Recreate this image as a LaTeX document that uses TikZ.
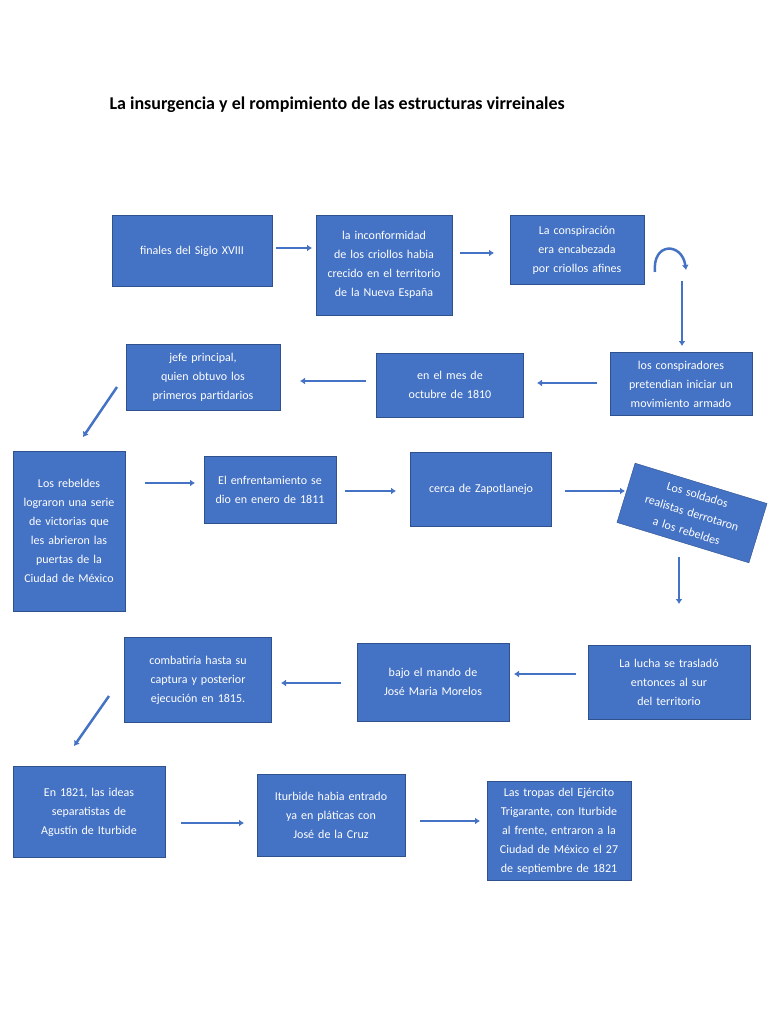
\documentclass[tikz,border=0pt]{standalone}
\usepackage{fontspec}
\setmainfont{Carlito}
\usetikzlibrary{arrows.meta}
\definecolor{boxblue}{HTML}{4472C4}
\definecolor{boxedge}{HTML}{2F528F}
\begin{document}
\hyphenpenalty=10000
\exhyphenpenalty=10000
\begin{tikzpicture}
[x=1pt,y=-1pt,
 box/.style={draw=boxedge, fill=boxblue, text=white, align=center, inner sep=2pt,
   font=\fontsize{12}{19}\selectfont, anchor=center},
 flow/.style={draw=boxblue, line width=2.5pt, -{Latex[length=5pt,width=7pt]}}]
\useasboundingbox (0,0) rectangle (768,1024);
% Title
\node[font=\fontsize{18}{22}\selectfont\bfseries, anchor=west] (title) at (106,105)
  {La insurgencia y el rompimiento de las estructuras virreinales};
% First row
\node[box, minimum width=160, minimum height=71, text width=150] (siglo) at (192,251) {finales del Siglo XVIII};
\node[box, minimum width=136, minimum height=100, text width=128] (inconf) at (384,265) {la inconformidad de los criollos habia crecido en el territorio de la Nueva España};
\node[box, minimum width=134, minimum height=69, text width=118] (consp) at (577,250) {La conspiración era encabezada por criollos afines};
% Second row
\node[box, minimum width=142, minimum height=63, text width=136] (armado) at (681,384) {los conspiradores pretendian iniciar un movimiento armado};
\node[box, minimum width=147, minimum height=64, text width=120] (octubre) at (450,385) {en el mes de octubre de 1810};
\node[box, minimum width=154, minimum height=66, text width=134] (jefe) at (203,377) {jefe principal, quien obtuvo los primeros partidarios};
% Third row
\node[box, minimum width=112, minimum height=160, text width=104] (rebeldes) at (69,531) {Los rebeldes lograron una serie de victorias que les abrieron las puertas de la Ciudad de México};
\node[box, minimum width=132, minimum height=67, text width=112] (enero) at (270,490) {El enfrentamiento se dio en enero de 1811};
\node[box, minimum width=141, minimum height=74, text width=136] (zapot) at (481,489) {cerca de Zapotlanejo};
\node[box, minimum width=138, minimum height=62, text width=112, rotate=-17] (derrota) at (692,513) {Los soldados realistas derrotaron a los rebeldes};
% Fourth row
\node[box, minimum width=162, minimum height=74, text width=120] (lucha) at (669,682) {La lucha se trasladó entonces al sur del territorio};
\node[box, minimum width=152, minimum height=78, text width=130] (mando) at (433,682) {bajo el mando de José Maria Morelos};
\node[box, minimum width=147, minimum height=85, text width=138] (captura) at (198,680) {combatiría hasta su captura y posterior ejecución en 1815.};
% Fifth row
\node[box, minimum width=152, minimum height=91, text width=146] (iturb) at (89,812) {En 1821, las ideas separatistas de Agustín de Iturbide};
\node[box, minimum width=148, minimum height=82, text width=130] (platicas) at (331,815) {Iturbide habia entrado ya en pláticas con José de la Cruz};
\node[box, minimum width=143, minimum height=99, text width=140] (tropas) at (559,831) {Las tropas del Ejército Trigarante, con Iturbide al frente, entraron a la Ciudad de México el 27 de septiembre de 1821};
% Arrow ends
\coordinate (a1) at (276,248); \coordinate (a2) at (312,248);
\coordinate (b1) at (460,253); \coordinate (b2) at (494,253);
\coordinate (c1) at (655,272); \coordinate (c2) at (686,270);
\coordinate (d1) at (682,281); \coordinate (d2) at (682,346);
\coordinate (e1) at (597,383); \coordinate (e2) at (537,383);
\coordinate (f1) at (366,381); \coordinate (f2) at (300,381);
\coordinate (g1) at (117,387); \coordinate (g2) at (83,437);
\coordinate (h1) at (145,483); \coordinate (h2) at (195,483);
\coordinate (i1) at (345,491); \coordinate (i2) at (396,491);
\coordinate (j1) at (565,491); \coordinate (j2) at (625,491);
\coordinate (k1) at (679,557); \coordinate (k2) at (679,604);
\coordinate (l1) at (576,674); \coordinate (l2) at (514,674);
\coordinate (m1) at (341,683); \coordinate (m2) at (281,683);
\coordinate (n1) at (109,696); \coordinate (n2) at (74,746);
\coordinate (o1) at (181,823); \coordinate (o2) at (244,823);
\coordinate (p1) at (420,821); \coordinate (p2) at (480,821);
% Connectors
\draw[flow] (a1) -- (a2);
\draw[flow] (b1) -- (b2);
\draw[flow] (c1) .. controls (652,242) and (682,242) .. (c2);
\draw[flow] (d1) -- (d2);
\draw[flow] (e1) -- (e2);
\draw[flow] (f1) -- (f2);
\draw[flow] (g1) -- (g2);
\draw[flow] (h1) -- (h2);
\draw[flow] (i1) -- (i2);
\draw[flow] (j1) -- (j2);
\draw[flow] (k1) -- (k2);
\draw[flow] (l1) -- (l2);
\draw[flow] (m1) -- (m2);
\draw[flow] (n1) -- (n2);
\draw[flow] (o1) -- (o2);
\draw[flow] (p1) -- (p2);
\end{tikzpicture}
\end{document}
